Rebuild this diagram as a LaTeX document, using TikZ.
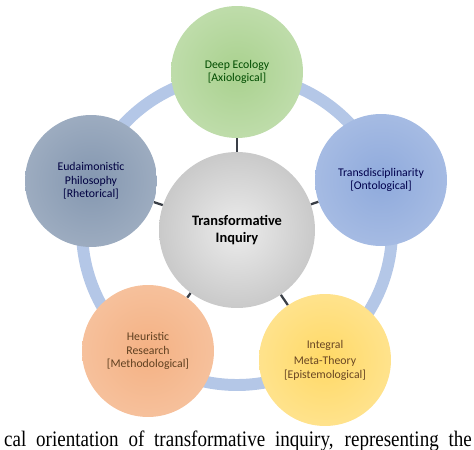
\documentclass[tikz,border=0pt]{standalone}
\usepackage{fontspec}
\setmainfont{Carlito}
\newfontfamily\capfont{Liberation Serif}
\usepackage{xcolor}
\usetikzlibrary{positioning, calc}

\definecolor{ringblue}{HTML}{B4C7E7}
\definecolor{ecogreen}{HTML}{A9D18E}
\definecolor{slateblue}{HTML}{8497B0}
\definecolor{skyblue}{HTML}{8FAADC}
\definecolor{peach}{HTML}{F4B183}
\definecolor{sun}{HTML}{FFD966}
\definecolor{linkgray}{HTML}{3A3F47}

\begin{document}
\begin{tikzpicture}[x=0.02cm, y=-0.02cm,
    petal/.style={circle, minimum size=2.64cm, inner sep=0pt, align=center,
        font=\fontsize{6.7}{7.8}\selectfont},
    hub/.style={circle, minimum size=3.12cm, inner sep=0pt, align=center,
        font=\fontsize{8.2}{9.6}\selectfont\bfseries,
        shade, inner color=gray!15, outer color=gray!42},
    link/.style={linkgray, line width=1.3pt}]
\useasboundingbox (0,0) rectangle (474,450);

% Background ring
\coordinate (mid) at (237,230);
\draw[ringblue, line width=6.8pt] (mid) circle (155);

% Center circle
\node[hub] (inquiry) at (mid) {Transformative\\Inquiry};

% Outer circles
\node[petal, shade, inner color=ecogreen, outer color=ecogreen!75!white,
    text=green!30!black] (ecology) at ($(mid)+(0,-158)$) {Deep Ecology\\{}[Axiological]};
\node[petal, shade, inner color=slateblue, outer color=slateblue!80!white,
    text=blue!25!black] (philosophy) at ($(mid)+(-146,-49)$) {Eudaimonistic\\Philosophy\\{}[Rhetorical]};
\node[petal, shade, inner color=skyblue, outer color=skyblue!80!white,
    text=blue!30!black] (transdisc) at ($(mid)+(144,-50)$) {Transdisciplinarity\\{}[Ontological]};
\node[petal, shade, inner color=peach, outer color=peach!80!white,
    text=brown!50!black] (heuristic) at ($(mid)+(-89,121)$) {Heuristic\\Research\\{}[Methodological]};
\node[petal, shade, inner color=sun, outer color=sun!75!white,
    text=brown!55!black] (integral) at ($(mid)+(88,130)$) {Integral\\[1.5pt]Meta-Theory\\{}[Epistemological]};

% Short links from the hub
\foreach \p in {ecology, philosophy, transdisc, heuristic, integral}
    \draw[link] (inquiry) -- (\p);

% Caption fragment
\node[anchor=base, inner sep=0pt, font=\capfont\fontsize{12.6}{14}\selectfont] (caption) at (238,446)
    {\scalebox{0.86}[1]{\makebox[10.88cm][s]{cal orientation of transformative inquiry, representing the}}};
\end{tikzpicture}
\end{document}
